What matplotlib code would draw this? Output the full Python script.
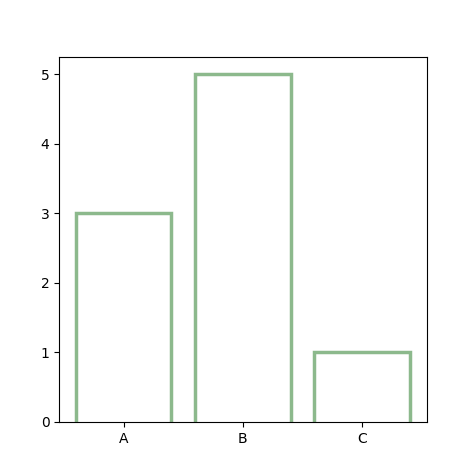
import matplotlib
matplotlib.use("Agg")
import matplotlib.pyplot as plt

categories = ["A", "B", "C"]
values = [3, 5, 1]
bar_width = 0.8

fig, ax = plt.subplots(figsize=(4.74, 4.74), dpi=100)

# open outline (no bottom edge), as in the reference
for i, v in enumerate(values):
    x0, x1 = i - bar_width / 2, i + bar_width / 2
    ax.plot([x0, x0, x1, x1], [0, v, v, 0], color="darkgreen", alpha=0.45,
            linewidth=2.5, solid_joinstyle="miter", solid_capstyle="butt")

ax.set_xticks(range(len(categories)))
ax.set_xticklabels(categories)
lo, hi = -bar_width / 2, len(categories) - 1 + bar_width / 2
pad = 0.05 * (hi - lo)
ax.set_xlim(lo - pad, hi + pad)
ax.set_ylim(0, max(values) * 1.05)

plt.savefig("out.png", dpi=100)
